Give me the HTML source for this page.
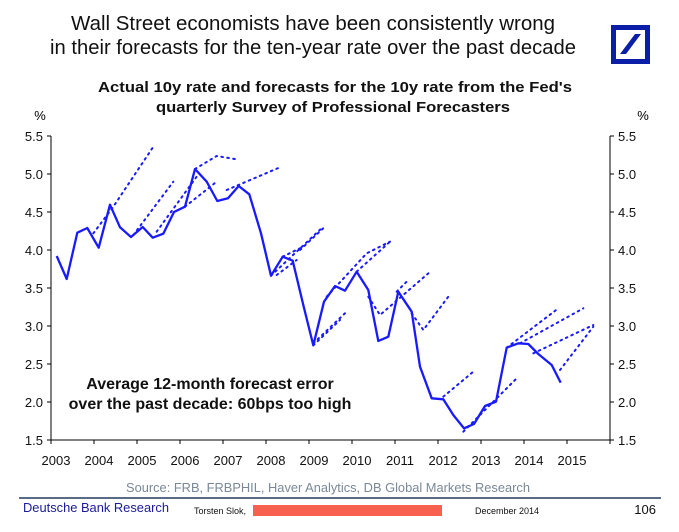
<!DOCTYPE html>
<html><head><meta charset="utf-8"><style>
body{margin:0;background:#fff;width:679px;height:532px;overflow:hidden}
svg{display:block}
text{font-family:"Liberation Sans",Arial,sans-serif}
</style></head><body>
<svg width="679" height="532" viewBox="0 0 679 532" xmlns="http://www.w3.org/2000/svg">
<text x="313" y="30" font-size="20" text-anchor="middle" textLength="484" lengthAdjust="spacingAndGlyphs" fill="#111">Wall Street economists have been consistently wrong</text>
<text x="313" y="54" font-size="20" text-anchor="middle" textLength="526" lengthAdjust="spacingAndGlyphs" fill="#111">in their forecasts for the ten-year rate over the past decade</text>
<rect x="613.5" y="27.5" width="34" height="34" fill="none" stroke="#0a1ea8" stroke-width="5"/>
<polygon points="620,54 626,54 641,34 635,34" fill="#0a1ea8"/>
<text x="335" y="92" font-size="15" font-weight="bold" text-anchor="middle" textLength="474" lengthAdjust="spacingAndGlyphs" fill="#111">Actual 10y rate and forecasts for the 10y rate from the Fed's</text>
<text x="333" y="112" font-size="15" font-weight="bold" text-anchor="middle" textLength="354" lengthAdjust="spacingAndGlyphs" fill="#111">quarterly Survey of Professional Forecasters</text>
<text x="40" y="120" font-size="13" text-anchor="middle">%</text>
<text x="643" y="120" font-size="13" text-anchor="middle">%</text>
<g stroke="#000" stroke-width="1" fill="none">
<line x1="51" y1="136" x2="51" y2="440"/>
<line x1="51" y1="440" x2="610" y2="440"/>
<line x1="610" y1="136" x2="610" y2="440"/>
</g>
<g stroke="#000" stroke-width="1">
<line x1="47" y1="136" x2="51" y2="136"/><line x1="47" y1="174" x2="51" y2="174"/><line x1="47" y1="212" x2="51" y2="212"/><line x1="47" y1="250" x2="51" y2="250"/><line x1="47" y1="288" x2="51" y2="288"/><line x1="47" y1="326" x2="51" y2="326"/><line x1="47" y1="364" x2="51" y2="364"/><line x1="47" y1="402" x2="51" y2="402"/><line x1="47" y1="440" x2="51" y2="440"/>
<line x1="610" y1="136" x2="614" y2="136"/><line x1="610" y1="174" x2="614" y2="174"/><line x1="610" y1="212" x2="614" y2="212"/><line x1="610" y1="250" x2="614" y2="250"/><line x1="610" y1="288" x2="614" y2="288"/><line x1="610" y1="326" x2="614" y2="326"/><line x1="610" y1="364" x2="614" y2="364"/><line x1="610" y1="402" x2="614" y2="402"/><line x1="610" y1="440" x2="614" y2="440"/>
<line x1="51" y1="440" x2="51" y2="444"/><line x1="94" y1="440" x2="94" y2="444"/><line x1="137" y1="440" x2="137" y2="444"/><line x1="180" y1="440" x2="180" y2="444"/><line x1="223" y1="440" x2="223" y2="444"/><line x1="266" y1="440" x2="266" y2="444"/><line x1="309" y1="440" x2="309" y2="444"/><line x1="352" y1="440" x2="352" y2="444"/><line x1="395" y1="440" x2="395" y2="444"/><line x1="438" y1="440" x2="438" y2="444"/><line x1="481" y1="440" x2="481" y2="444"/><line x1="524" y1="440" x2="524" y2="444"/><line x1="567" y1="440" x2="567" y2="444"/><line x1="610" y1="440" x2="610" y2="444"/>
</g>
<g font-size="13" fill="#111" text-anchor="end">
<text x="43" y="141">5.5</text><text x="43" y="179">5.0</text><text x="43" y="217">4.5</text><text x="43" y="255">4.0</text><text x="43" y="293">3.5</text><text x="43" y="331">3.0</text><text x="43" y="369">2.5</text><text x="43" y="407">2.0</text><text x="43" y="445">1.5</text>
</g>
<g font-size="13" fill="#111">
<text x="618" y="141">5.5</text><text x="618" y="179">5.0</text><text x="618" y="217">4.5</text><text x="618" y="255">4.0</text><text x="618" y="293">3.5</text><text x="618" y="331">3.0</text><text x="618" y="369">2.5</text><text x="618" y="407">2.0</text><text x="618" y="445">1.5</text>
</g>
<g font-size="13" fill="#111" text-anchor="middle">
<text x="56" y="465">2003</text><text x="99" y="465">2004</text><text x="142" y="465">2005</text><text x="185" y="465">2006</text><text x="228" y="465">2007</text><text x="271" y="465">2008</text><text x="314" y="465">2009</text><text x="357" y="465">2010</text><text x="400" y="465">2011</text><text x="443" y="465">2012</text><text x="486" y="465">2013</text><text x="529" y="465">2014</text><text x="572" y="465">2015</text>
</g>
<g transform="translate(0,110) scale(0.33333)" fill="none" stroke="#1a1aff" stroke-width="6" stroke-dasharray="5 13" stroke-linecap="round">
<polyline points="280,370 340,290 460,110"/>
<polyline points="400,375 520,215"/>
<polyline points="470,365 590,200"/>
<polyline points="555,290 650,215"/>
<polyline points="585,177 650,138 710,148"/>
<polyline points="680,240 840,172"/>
<polyline points="813,497 970,350"/>
<polyline points="848,440 910,410"/>
<polyline points="830,495 890,450"/>
<polyline points="940,706 1020,630"/>
</g>
<g transform="translate(300,110) scale(0.33333)" fill="none" stroke="#1a1aff" stroke-width="6" stroke-dasharray="5 13" stroke-linecap="round">
<polyline points="0,420 75,350"/>
<polyline points="40,700 140,605"/>
<polyline points="80,560 200,430 270,395"/>
<polyline points="170,485 270,395"/>
<polyline points="205,560 240,615 385,490"/>
<polyline points="290,545 320,515"/>
<polyline points="335,610 370,660 445,560"/>
<polyline points="430,860 520,785"/>
<polyline points="490,965 650,805"/>
<polyline points="620,713 775,595"/>
<polyline points="660,700 850,595"/>
<polyline points="700,730 880,645"/>
<polyline points="780,780 880,650"/>
</g>
<polyline fill="none" stroke="#1a1aff" stroke-width="2.3" stroke-linejoin="round" points="56.7,256 66.7,279 77.3,232.7 87.3,228 98.7,247.7 110,204.7 120,227.3 131,237 142.7,227 152.7,237.7 163.3,233.7 174,212 185,206.7 195,169 206.7,181.7 217.3,201 228,198.3 238.7,186 249.3,194.3 261,233.3 271,275.7 282.7,256.7 292.7,260.7 303.3,305 313.3,345.3 324,301.7 335,286 345,290.7 356.7,271.7 368.3,290 378.3,341 388.3,336.7 398.3,291.7 411.7,311.7 420,366.7 431.7,398.3 443.3,399.3 453.3,415 464,428.3 474,424 485,406 496,401.7 506.7,347.7 518.3,343.3 528.3,344 538.3,354 551.7,365 560.7,382.7"/>
<text x="210" y="389" font-size="16" font-weight="bold" text-anchor="middle" fill="#111">Average 12-month forecast error</text>
<text x="210" y="409" font-size="16" font-weight="bold" text-anchor="middle" fill="#111">over the past decade: 60bps too high</text>
<text x="328" y="492" font-size="12.5" text-anchor="middle" fill="#7a8899" textLength="404" lengthAdjust="spacingAndGlyphs">Source: FRB, FRBPHIL, Haver Analytics, DB Global Markets Research</text>
<line x1="19" y1="498" x2="661" y2="498" stroke="#5a6b85" stroke-width="2"/>
<text x="23" y="512" font-size="13" fill="#1a1a9a" textLength="146" lengthAdjust="spacingAndGlyphs">Deutsche Bank Research</text>
<text x="194" y="514" font-size="9" fill="#111">Torsten Slok,</text>
<rect x="253" y="505" width="189" height="11" fill="#f86050"/>
<text x="475" y="514" font-size="9" fill="#111">December 2014</text>
<text x="656" y="514" font-size="13" text-anchor="end" fill="#111">106</text>
</svg>
</body></html>
